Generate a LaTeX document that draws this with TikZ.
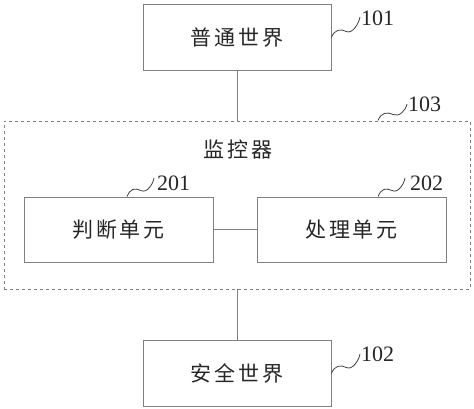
\documentclass[tikz,border=0pt]{standalone}
\usepackage{fontspec}
\setmainfont{Liberation Serif}
\newfontfamily\cjk[LetterSpace=14]{Noto Sans CJK SC}
\usetikzlibrary{calc}
\definecolor{linegray}{gray}{0.5}
\tikzset{
  boxnode/.style={draw=linegray, line width=0.9pt, minimum width=188pt, minimum height=66pt, inner sep=0pt, font=\cjk\fontsize{21}{24}\selectfont, text=black!85},
  conn/.style={draw=linegray, line width=0.9pt},
  squig/.style={draw=black!75, line width=0.8pt},
  numlabel/.style={font=\fontsize{22}{24}\selectfont, text=black!85, inner sep=0pt, anchor=west}
}
\begin{document}
\begin{tikzpicture}[x=1pt,y=-1pt]
\useasboundingbox (0,0) rectangle (474,409);
% boxes
\node[boxnode] (top) at (237,37.5) {普通世界};
\node[boxnode] (bottom) at (237,373.5) {安全世界};
\node[draw=linegray, dashed, line width=0.9pt, minimum width=466pt, minimum height=168pt, inner sep=0pt] (mon) at (237,205) {};
\node[font=\cjk\fontsize{21}{24}\selectfont, text=black!85, inner sep=0pt] (monlabel) at (238,150) {监控器};
\node[boxnode, minimum width=189pt, minimum height=65pt] (judge) at (118.5,229.5) {判断单元};
\node[boxnode, minimum width=189pt, minimum height=65pt] (proc) at (351.5,229.5) {处理单元};
% connectors
\draw[conn] (top.south) -- (top.south |- mon.north);
\draw[conn] (bottom.north |- mon.south) -- (bottom.north);
\draw[conn] (judge.east) -- (proc.west);
% labels
\coordinate (e101) at (360,17);
\coordinate (e102) at (360,354);
\coordinate (e103) at (407,104);
\coordinate (e201) at (154,178);
\coordinate (e202) at (405,178);
\node[numlabel] (l101) at (361,18) {101};
\node[numlabel] (l102) at (361,354) {102};
\node[numlabel] (l103) at (408,104) {103};
\node[numlabel] (l201) at (157,183) {201};
\node[numlabel] (l202) at (410,183) {202};
\draw[squig] (top.east) .. controls ++(3,-8) and ++(-6,-3) .. ++(15,-6) .. controls ++(6,3) and ++(-1,6) .. (e101);
\draw[squig] (bottom.east) .. controls ++(3,-8) and ++(-6,-3) .. ++(15,-6) .. controls ++(6,3) and ++(-1,6) .. (e102);
\coordinate (s103) at ($(mon.north west)!0.802!(mon.north east)$);
\draw[squig] (s103) .. controls ++(3,-8) and ++(-6,-3) .. ++(15,-6) .. controls ++(6,3) and ++(-1,6) .. (e103);
\coordinate (s201) at ($(judge.north west)!0.545!(judge.north east)$);
\draw[squig] (s201) .. controls ++(3,-8) and ++(-6,-3) .. ++(14,-6) .. controls ++(6,3) and ++(-1,6) .. (e201);
\coordinate (s202) at ($(proc.north west)!0.64!(proc.north east)$);
\draw[squig] (s202) .. controls ++(3,-8) and ++(-6,-3) .. ++(14,-6) .. controls ++(6,3) and ++(-1,6) .. (e202);
\end{tikzpicture}
\end{document}
